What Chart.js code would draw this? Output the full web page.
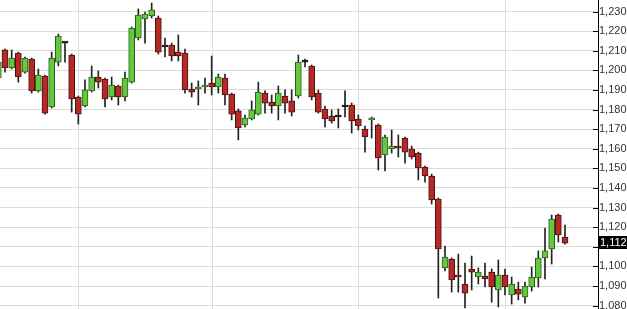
<!DOCTYPE html>
<html><head><meta charset="utf-8">
<script src="https://cdn.jsdelivr.net/npm/chart.js@4"></script>
<style>html,body{margin:0;padding:0;background:#fff;overflow:hidden}#wrap{width:627px;height:309px}</style>
</head><body><div id="wrap"><canvas id="c" width="627" height="309"></canvas></div>
<script>
const opens = [1.1961,1.2104,1.2012,1.2088,1.1991,1.2058,1.1895,1.1971,1.1813,1.2042,
1.2139,1.2078,1.1864,1.1818,1.1895,1.1966,1.1956,1.1864,1.1920,1.1864,
1.1940,1.2165,1.2262,1.2277,1.2267,1.2119,1.2129,1.2093,1.2088,1.1905,
1.1905,1.1915,1.1935,1.1915,1.1961,1.1879,1.1793,1.1721,1.1752,1.1777,
1.1884,1.1838,1.1818,1.1869,1.1844,1.1869,1.2042,1.2022,1.1884,1.1803,
1.1767,1.1762,1.1813,1.1823,1.1752,1.1701,1.1747,1.1721,1.1568,1.1599,
1.1614,1.1655,1.1599,1.1578,1.1507,1.1461,1.1344,1.0992,1.1038,1.0956,
1.0910,1.0987,1.0946,1.0951,1.0971,1.0880,1.0956,1.0854,1.0885,1.0844,
1.0895,1.0941,1.1043,1.1089,1.1262,1.1150];
const highs = [1.2053,1.2109,1.2104,1.2093,1.2068,1.2063,1.2007,1.1976,1.2093,1.2185,
1.2144,1.2083,1.1869,1.1951,1.2022,1.1997,1.1961,1.1966,1.1925,1.1991,
1.2221,1.2313,1.2297,1.2343,1.2277,1.2165,1.2139,1.2180,1.2109,1.1935,
1.1946,1.1961,1.2073,1.1981,1.1981,1.1884,1.1803,1.1772,1.1844,1.1940,
1.1895,1.1874,1.1920,1.1900,1.1900,1.2078,1.2058,1.2027,1.1900,1.1818,
1.1798,1.1803,1.1895,1.1833,1.1772,1.1716,1.1762,1.1726,1.1670,1.1696,
1.1670,1.1660,1.1614,1.1583,1.1512,1.1471,1.1349,1.1104,1.1043,1.1063,
1.1017,1.1053,1.0992,1.1017,1.0987,1.1033,1.0987,1.0946,1.0920,1.0920,
1.0997,1.1079,1.1196,1.1262,1.1267,1.1211];
const lows = [1.1951,1.1991,1.2007,1.1940,1.1986,1.1884,1.1889,1.1777,1.1808,1.2022,
1.2042,1.1787,1.1726,1.1813,1.1889,1.1910,1.1813,1.1849,1.1823,1.1844,
1.1935,1.2155,1.2139,1.2267,1.2083,1.2068,1.2048,1.2048,1.1884,1.1864,
1.1823,1.1884,1.1874,1.1884,1.1823,1.1747,1.1645,1.1711,1.1747,1.1772,
1.1782,1.1782,1.1747,1.1782,1.1767,1.1859,1.2017,1.1849,1.1782,1.1711,
1.1731,1.1706,1.1762,1.1680,1.1696,1.1583,1.1655,1.1492,1.1487,1.1578,
1.1558,1.1527,1.1548,1.1441,1.1430,1.1318,1.0839,1.0977,1.0869,1.0869,
1.0788,1.0880,1.0910,1.0895,1.0818,1.0793,1.0854,1.0808,1.0829,1.0813,
1.0874,1.0895,1.0936,1.1012,1.1124,1.1114];
const closes = [1.2042,1.2012,1.2063,1.1966,1.2063,1.1895,1.1976,1.1782,1.2063,1.2175,
1.2139,1.1854,1.1777,1.1900,1.1966,1.1940,1.1854,1.1925,1.1864,1.1961,
1.2216,1.2282,1.2287,1.2308,1.2093,1.2119,1.2073,1.2073,1.1900,1.1889,
1.1915,1.1925,1.1915,1.1966,1.1874,1.1777,1.1706,1.1757,1.1798,1.1889,
1.1833,1.1818,1.1884,1.1833,1.1787,1.2042,1.2042,1.1864,1.1787,1.1752,
1.1742,1.1762,1.1813,1.1742,1.1716,1.1660,1.1757,1.1553,1.1660,1.1614,
1.1604,1.1583,1.1558,1.1502,1.1461,1.1339,1.1089,1.1048,1.0931,1.0946,
1.0864,1.0971,1.0971,1.0936,1.0895,1.0956,1.0895,1.0910,1.0859,1.0900,
1.0946,1.1043,1.1079,1.1242,1.1160,1.1119];
const monthStarts = [12, 32, 54, 76];
const yTickValues = [1.08,1.09,1.10,1.11,1.12,1.13,1.14,1.15,1.16,1.17,1.18,1.19,1.20,1.21,1.22,1.23];

const Y_MIN = 1.07828, Y_MAX = 1.23587;
const X_MIN = 0.25, X_MAX = 89.95;
const fmt = v => v.toFixed(3).replace('.', ',');
const lastClose = closes[closes.length - 1];

const UP_FILL = '#62c83c', UP_LINE = '#2f5f1e';
const DN_FILL = '#b52a25', DN_LINE = '#4d1111';
const FLAT = '#111';

const idx = closes.map((_, i) => i);
const bodyData = idx.map(i => ({x: i, y: [opens[i], closes[i]]}));
const wickData = idx.map(i => ({x: i, y: [lows[i], highs[i]]}));
const fillCol = idx.map(i => closes[i] > opens[i] ? UP_FILL : closes[i] < opens[i] ? DN_FILL : FLAT);
const lineCol = idx.map(i => closes[i] > opens[i] ? UP_LINE : closes[i] < opens[i] ? DN_LINE : FLAT);

const extras = {
  id: 'extras',
  beforeDatasetsDraw(chart) {
    const ctx = chart.ctx, xs = chart.scales.x, ca = chart.chartArea;
    ctx.save();
    ctx.strokeStyle = '#dcdcdc'; ctx.lineWidth = 1;
    monthStarts.forEach(v => {
      const px = Math.round(xs.getPixelForValue(v)) + 0.5;
      ctx.beginPath(); ctx.moveTo(px, ca.top); ctx.lineTo(px, ca.bottom); ctx.stroke();
    });
    ctx.restore();
  },
  afterDraw(chart) {
    const ctx = chart.ctx, ys = chart.scales.y, ca = chart.chartArea;
    ctx.save();
    ctx.strokeStyle = '#000'; ctx.lineWidth = 1;
    yTickValues.forEach(v => {
      const py = Math.round(ys.getPixelForValue(v)) + 0.5;
      ctx.beginPath(); ctx.moveTo(ca.right - 5, py); ctx.lineTo(ca.right, py); ctx.stroke();
    });
    const py = ys.getPixelForValue(lastClose) - 1;
    ctx.fillStyle = '#000';
    ctx.fillRect(ca.right + 1, Math.round(py - 6.5), 29, 13);
    ctx.fillStyle = '#fff';
    ctx.font = '11px "Liberation Sans", Arial, sans-serif';
    ctx.textBaseline = 'middle'; ctx.textAlign = 'left';
    ctx.fillText(fmt(lastClose), ca.right + 2, py + 0.5);
    ctx.restore();
  }
};

new Chart(document.getElementById('c'), {
  type: 'bar',
  data: {
    datasets: [
      {data: bodyData, order: 0, grouped: false, barThickness: 6, minBarLength: 2,
       backgroundColor: fillCol, borderColor: lineCol, borderWidth: 1, borderSkipped: false},
      {data: wickData, order: 1, grouped: false, barThickness: 1,
       backgroundColor: '#222', borderWidth: 0}
    ]
  },
  options: {
    responsive: false, animation: false, devicePixelRatio: 1,
    layout: {padding: 0},
    plugins: {legend: {display: false}, tooltip: {enabled: false}},
    scales: {
      x: {
        type: 'linear', min: X_MIN, max: X_MAX, offset: false,
        afterFit: s => { s.height = 0; s.paddingLeft = 0; s.paddingRight = 0; },
        grid: {display: false, drawTicks: false},
        border: {display: false},
        ticks: {display: false}
      },
      y: {
        position: 'right', min: Y_MIN, max: Y_MAX,
        afterBuildTicks: s => { s.ticks = yTickValues.map(v => ({value: v})); },
        afterFit: s => { s.width = 29; s.paddingTop = 0; s.paddingBottom = 0; },
        grid: {color: '#dcdcdc', drawTicks: false},
        border: {display: true, color: '#000', width: 1},
        ticks: {
          padding: 1, color: '#333',
          font: {family: '"Liberation Sans", Arial, sans-serif', size: 11},
          callback: v => Math.abs(v - lastClose) < 0.005 ? '' : fmt(v)
        }
      }
    }
  },
  plugins: [extras]
});
</script></body></html>
